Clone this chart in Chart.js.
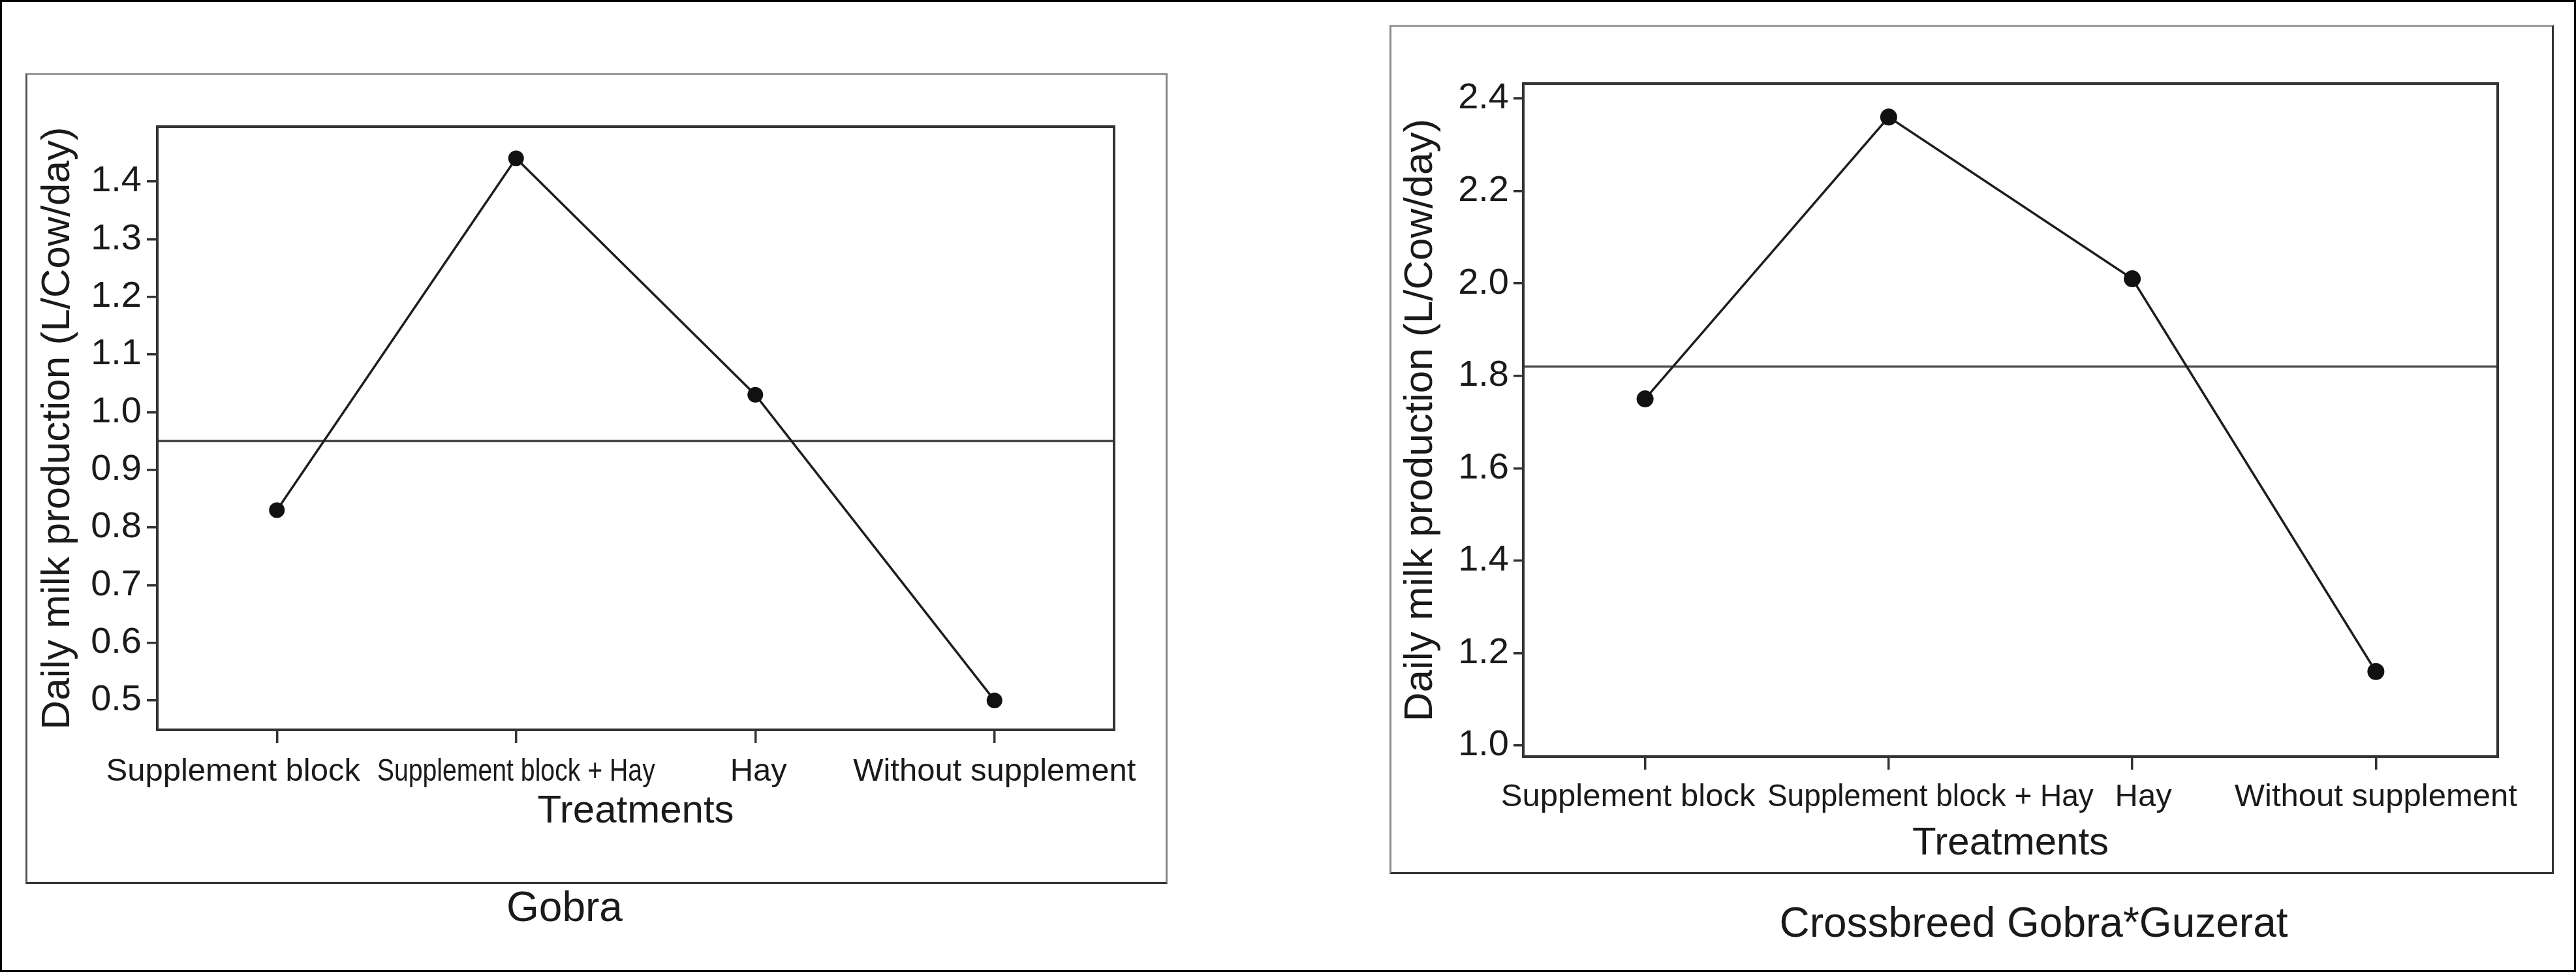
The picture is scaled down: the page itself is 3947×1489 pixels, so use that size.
<!DOCTYPE html>
<html>
<head>
<meta charset="utf-8">
<script src="https://cdn.jsdelivr.net/npm/chart.js@4.4.1/dist/chart.umd.min.js"></script>
<style>
  html, body { margin: 0; padding: 0; background: #fff; }
  #page { position: relative; width: 3947px; height: 1489px; overflow: hidden; font-family: 'Liberation Sans', Arial, sans-serif; color: #1a1a1a; }
  .edge { position: absolute; left: 0; top: 0; width: 3947px; height: 1489px; box-sizing: border-box; border: 3px solid #000; }
  .frame { position: absolute; box-sizing: border-box; border-style: solid; border-width: 3px; }
  canvas { position: absolute; }
  .caption { position: absolute; font-size: 64px; transform: translate(-50%, -50%); white-space: nowrap; }
</style>
</head>
<body>
<div id="page">
  <div class="edge"></div>
  <div class="frame" style="left:39px; top:112px; width:1750px; height:1242px; border-color:#999 #888 #333 #555;"></div>
  <div class="frame" style="left:2129px; top:38px; width:1784px; height:1301px; border-color:#999 #333 #333 #888;"></div>
  <canvas id="gobraChart" width="1747" height="1239" style="left:40px; top:113px;"></canvas>
  <canvas id="crossChart" width="1781" height="1298" style="left:2130px; top:39px;"></canvas>
  <div class="caption" style="left:865px; top:1389px;">Gobra</div>
  <div class="caption" style="left:3116px; top:1413px;">Crossbreed Gobra*Guzerat</div>
</div>
<script>
// values
const treatments = ['Supplement block', 'Supplement block + Hay', 'Hay', 'Without supplement'];
const gobraMilk = [0.83, 1.44, 1.03, 0.50];
const crossMilk = [1.75, 2.36, 2.01, 1.16];
const gobraTicks = [0.5, 0.6, 0.7, 0.8, 0.9, 1.0, 1.1, 1.2, 1.3, 1.4];
const crossTicks = [1.0, 1.2, 1.4, 1.6, 1.8, 2.0, 2.2, 2.4];

Chart.defaults.font.family = "'Liberation Sans', Arial, sans-serif";
Chart.defaults.color = '#1a1a1a';

const average = arr => arr.reduce((a, b) => a + b, 0) / arr.length;

// plot box + grand mean line
const framePlugin = {
    id: 'frame',
    beforeDatasetsDraw(chart, args, o) {
        const { ctx, chartArea: a, scales: { y } } = chart;
        ctx.save();
        const my = y.getPixelForValue(o.mean);
        ctx.strokeStyle = '#4a4a4a';
        ctx.lineWidth = 3.5;
        ctx.beginPath();
        ctx.moveTo(a.left, my);
        ctx.lineTo(a.right, my);
        ctx.stroke();
        ctx.strokeStyle = '#333';
        ctx.lineWidth = 4;
        ctx.strokeRect(a.left, a.top, a.right - a.left, a.bottom - a.top);
        ctx.restore();
    }
};

// category labels, nudged like in the original figure
const xLabelPlugin = {
    id: 'xLabels',
    afterDraw(chart, args, o) {
        const { ctx, chartArea, scales: { x } } = chart;
        ctx.save();
        ctx.font = o.size + "px 'Liberation Sans', Arial, sans-serif";
        ctx.fillStyle = '#1a1a1a';
        ctx.textAlign = 'center';
        ctx.textBaseline = 'middle';
        chart.data.labels.forEach((label, i) => {
            const px = x.getPixelForTick(i) + o.nudge[i];
            const py = chartArea.bottom + o.offset;
            if (o.squeeze[i]) ctx.fillText(label, px, py, o.squeeze[i]);
            else ctx.fillText(label, px, py);
        });
        ctx.restore();
    }
};

function makeChart(id, values, ticks, cfg) {
    return new Chart(document.getElementById(id), {
        type: 'line',
        data: {
            labels: treatments,
            datasets: [{
                data: values,
                borderColor: '#1e1e1e',
                borderWidth: 3.5,
                tension: 0,
                pointRadius: cfg.pointRadius,
                pointBackgroundColor: '#111',
                pointBorderColor: '#111',
                pointBorderWidth: 0,
                clip: false
            }]
        },
        options: {
            responsive: false,
            animation: false,
            layout: { padding: cfg.padding },
            scales: {
                x: {
                    type: 'category',
                    offset: true,
                    border: { display: false },
                    grid: { drawOnChartArea: false, drawTicks: true, tickLength: 20, tickColor: '#333', lineWidth: 3.5 },
                    ticks: { display: false },
                    title: { display: true, text: 'Treatments', font: { size: 60 }, padding: 0, color: '#1a1a1a' },
                    afterFit: s => { s.height = cfg.xHeight; }
                },
                y: {
                    min: cfg.yMin,
                    max: cfg.yMax,
                    border: { display: false },
                    grid: { drawOnChartArea: false, drawTicks: true, tickLength: cfg.yTickLen, tickColor: '#333', lineWidth: 3.5 },
                    ticks: { font: { size: 56 }, padding: cfg.yTickPad, color: '#1a1a1a', callback: v => Number(v).toFixed(1) },
                    afterBuildTicks: s => { s.ticks = ticks.map(v => ({ value: v })); },
                    title: { display: true, text: 'Daily milk production (L/Cow/day)', font: { size: 62 }, padding: 0, color: '#1a1a1a' },
                    afterFit: s => { s.width = cfg.yWidth; }
                }
            },
            plugins: {
                legend: { display: false },
                tooltip: { enabled: false },
                frame: { mean: average(values) },
                xLabels: { size: 49, offset: cfg.labelOffset, nudge: cfg.nudge, squeeze: cfg.squeeze }
            }
        },
        plugins: [framePlugin, xLabelPlugin]
    });
}

makeChart('gobraChart', gobraMilk, gobraTicks, {
    padding: { top: 81, right: 80, left: 12, bottom: 73 },
    yWidth: 189, xHeight: 161,
    yMin: 0.449, yMax: 1.495,
    yTickLen: 16, yTickPad: 8,
    labelOffset: 64,
    nudge: [-67, 0, 5, 0],
    squeeze: [null, 426, null, null],
    pointRadius: 12
});

makeChart('crossChart', crossMilk, crossTicks, {
    padding: { top: 89, right: 84, left: 10, bottom: 9 },
    yWidth: 194, xHeight: 169,
    yMin: 0.976, yMax: 2.4325,
    yTickLen: 15, yTickPad: 7,
    labelOffset: 62,
    nudge: [-26, 64, 17, 0],
    squeeze: [null, 500, null, null],
    pointRadius: 13
});
</script>
</body>
</html>
